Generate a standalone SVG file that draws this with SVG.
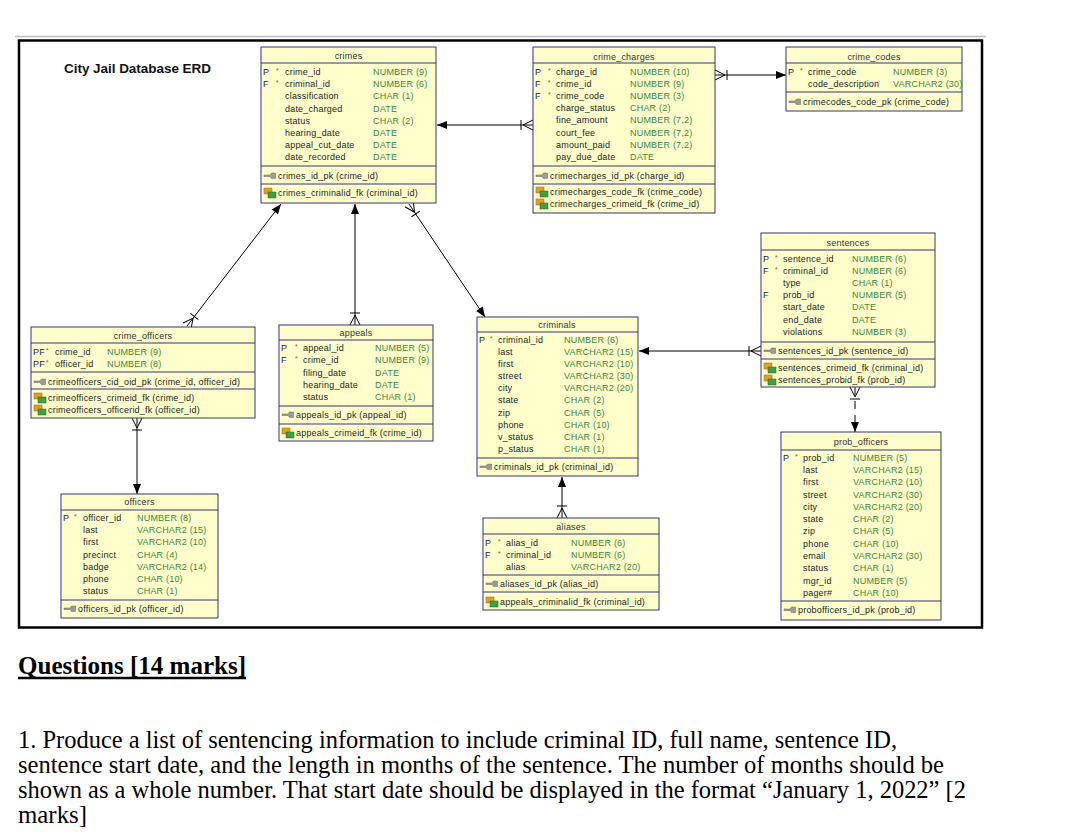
<svg xmlns="http://www.w3.org/2000/svg" xmlns:xlink="http://www.w3.org/1999/xlink" width="1082" height="837" viewBox="0 0 1082 837">
<style>
.box{fill:#ffffcc;stroke:#34347a;stroke-width:1}
.sep{stroke:#34347a;stroke-width:1}
.t{font-family:"Liberation Sans",Arial,sans-serif;font-size:9px;fill:#1e1e1e;letter-spacing:0.2px}
.hd{text-anchor:middle;fill:#333}
.ty{fill:#3a8a3a}
.k{fill:#1e1e4e}
.st{fill:#d04000;font-size:7px}
.con{stroke:#000;stroke-width:1;fill:none}
.dash{stroke-dasharray:8,6}
</style>
<defs>
<marker id="arr" markerUnits="userSpaceOnUse" orient="auto" refX="10" refY="0" markerWidth="12" markerHeight="10" style="overflow:visible"><path d="M0,-4 L10,0 L0,4 z" fill="#000"/></marker>
<marker id="crow" markerUnits="userSpaceOnUse" orient="auto" refX="0" refY="0" markerWidth="14" markerHeight="12" style="overflow:visible"><path d="M10,0 L0,-5 M10,0 L0,5 M12,-5 L12,5" stroke="#000" fill="none" stroke-width="1"/></marker>
<g id="pk"><path d="M0,2 h6 l1.5,-2 h4 v5.5 h-4 l-1.5,-2 h-6 z" fill="#9a9a9a" stroke="#666" stroke-width="0.5"/></g>
<g id="fk"><rect x="0" y="0" width="8" height="6" fill="#e0a020" stroke="#a06010" stroke-width="0.5"/><rect x="4" y="4" width="8" height="6" fill="#40a040" stroke="#206020" stroke-width="0.5"/></g>
</defs>
<rect x="0" y="0" width="1082" height="837" fill="#fff"/>
<line x1="15" y1="36.5" x2="986" y2="36.5" stroke="#bbb" stroke-width="1.5"/>
<rect x="19" y="40.5" width="963" height="587" fill="none" stroke="#000" stroke-width="2.5"/>
<text x="64" y="73" font-family="Liberation Sans, Arial, sans-serif" font-weight="bold" font-size="13.5" textLength="147" fill="#111">City Jail Database ERD</text>

<g id="connectors">
<line class="con" x1="533" y1="125" x2="437" y2="125" marker-start="url(#crow)" marker-end="url(#arr)"/>
<line class="con" x1="715" y1="75" x2="786" y2="75" marker-start="url(#crow)" marker-end="url(#arr)"/>
<line class="con" x1="187" y1="326" x2="281" y2="204" marker-start="url(#crow)" marker-end="url(#arr)"/>
<line class="con" x1="355" y1="325" x2="355" y2="204" marker-start="url(#crow)" marker-end="url(#arr)"/>
<line class="con" x1="409" y1="204" x2="485" y2="317" marker-start="url(#crow)" marker-end="url(#arr)"/>
<line class="con" x1="761" y1="351" x2="639" y2="351" marker-start="url(#crow)" marker-end="url(#arr)"/>
<line class="con" x1="562" y1="518" x2="562" y2="477" marker-start="url(#crow)" marker-end="url(#arr)"/>
<line class="con" x1="137" y1="418" x2="137" y2="494" marker-start="url(#crow)" marker-end="url(#arr)"/>
<line class="con dash" x1="855" y1="387" x2="855" y2="432" marker-start="url(#crow)" marker-end="url(#arr)"/>
</g>

<g id="crimes" class="t">
<rect class="box" x="261" y="47" width="175" height="156"/>
<line class="sep" x1="261" y1="63" x2="436" y2="63"/>
<line class="sep" x1="261" y1="166" x2="436" y2="166"/>
<line class="sep" x1="261" y1="184" x2="436" y2="184"/>
<text class="hd" x="348.5" y="59">crimes</text>
<text class="k" x="263" y="75">P</text><text class="st" x="276" y="73">*</text>
<text class="k" x="263" y="87">F</text><text class="st" x="276" y="85">*</text>
<text x="285" y="75">crime_id</text><text class="ty" x="373" y="75">NUMBER (9)</text>
<text x="285" y="87">criminal_id</text><text class="ty" x="373" y="87">NUMBER (6)</text>
<text x="285" y="99">classification</text><text class="ty" x="373" y="99">CHAR (1)</text>
<text x="285" y="111.5">date_charged</text><text class="ty" x="373" y="111.5">DATE</text>
<text x="285" y="124">status</text><text class="ty" x="373" y="124">CHAR (2)</text>
<text x="285" y="136">hearing_date</text><text class="ty" x="373" y="136">DATE</text>
<text x="285" y="148">appeal_cut_date</text><text class="ty" x="373" y="148">DATE</text>
<text x="285" y="160">date_recorded</text><text class="ty" x="373" y="160">DATE</text>
<use href="#pk" x="264" y="173"/><text x="278" y="179">crimes_id_pk (crime_id)</text>
<use href="#fk" x="264" y="188"/><text x="278" y="196">crimes_criminalid_fk (criminal_id)</text>
</g>

<g id="crime_charges" class="t">
<rect class="box" x="533" y="47" width="182" height="166"/>
<line class="sep" x1="533" y1="63" x2="715" y2="63"/>
<line class="sep" x1="533" y1="166" x2="715" y2="166"/>
<line class="sep" x1="533" y1="184" x2="715" y2="184"/>
<text class="hd" x="624" y="60">crime_charges</text>
<text class="k" x="535" y="75">P</text><text class="st" x="548" y="73">*</text>
<text class="k" x="535" y="87">F</text><text class="st" x="548" y="85">*</text>
<text class="k" x="535" y="99">F</text><text class="st" x="548" y="97">*</text>
<text x="556" y="75">charge_id</text><text class="ty" x="630" y="75">NUMBER (10)</text>
<text x="556" y="87">crime_id</text><text class="ty" x="630" y="87">NUMBER (9)</text>
<text x="556" y="99">crime_code</text><text class="ty" x="630" y="99">NUMBER (3)</text>
<text x="556" y="111">charge_status</text><text class="ty" x="630" y="111">CHAR (2)</text>
<text x="556" y="123">fine_amount</text><text class="ty" x="630" y="123">NUMBER (7,2)</text>
<text x="556" y="136">court_fee</text><text class="ty" x="630" y="136">NUMBER (7,2)</text>
<text x="556" y="148">amount_paid</text><text class="ty" x="630" y="148">NUMBER (7,2)</text>
<text x="556" y="160">pay_due_date</text><text class="ty" x="630" y="160">DATE</text>
<use href="#pk" x="536" y="173"/><text x="550" y="179">crimecharges_id_pk (charge_id)</text>
<use href="#fk" x="536" y="187"/><text x="550" y="195">crimecharges_code_fk (crime_code)</text>
<use href="#fk" x="536" y="199"/><text x="550" y="207">crimecharges_crimeid_fk (crime_id)</text>
</g>

<g id="crime_codes" class="t">
<rect class="box" x="786" y="47" width="176" height="64"/>
<line class="sep" x1="786" y1="63" x2="962" y2="63"/>
<line class="sep" x1="786" y1="92" x2="962" y2="92"/>
<text class="hd" x="874" y="60">crime_codes</text>
<text class="k" x="788" y="75">P</text><text class="st" x="800" y="73">*</text>
<text x="808" y="75">crime_code</text><text class="ty" x="893" y="75">NUMBER (3)</text>
<text x="808" y="87">code_description</text><text class="ty" x="893" y="87">VARCHAR2 (30)</text>
<use href="#pk" x="789" y="99"/><text x="803" y="105">crimecodes_code_pk (crime_code)</text>
</g>

<g id="sentences" class="t">
<rect class="box" x="761" y="233" width="174" height="154"/>
<line class="sep" x1="761" y1="250" x2="935" y2="250"/>
<line class="sep" x1="761" y1="342" x2="935" y2="342"/>
<line class="sep" x1="761" y1="359" x2="935" y2="359"/>
<text class="hd" x="848" y="246">sentences</text>
<text class="k" x="763" y="262">P</text><text class="st" x="775" y="260">*</text>
<text class="k" x="763" y="274">F</text><text class="st" x="775" y="272">*</text>
<text class="k" x="763" y="298">F</text>
<text x="783" y="262">sentence_id</text><text class="ty" x="852" y="262">NUMBER (6)</text>
<text x="783" y="274">criminal_id</text><text class="ty" x="852" y="274">NUMBER (6)</text>
<text x="783" y="286">type</text><text class="ty" x="852" y="286">CHAR (1)</text>
<text x="783" y="298">prob_id</text><text class="ty" x="852" y="298">NUMBER (5)</text>
<text x="783" y="310">start_date</text><text class="ty" x="852" y="310">DATE</text>
<text x="783" y="323">end_date</text><text class="ty" x="852" y="323">DATE</text>
<text x="783" y="335">violations</text><text class="ty" x="852" y="335">NUMBER (3)</text>
<use href="#pk" x="764" y="348"/><text x="778" y="354">sentences_id_pk (sentence_id)</text>
<use href="#fk" x="764" y="363"/><text x="778" y="371">sentences_crimeid_fk (criminal_id)</text>
<use href="#fk" x="764" y="375"/><text x="778" y="383">sentences_probid_fk (prob_id)</text>
</g>

<g id="crime_officers" class="t">
<rect class="box" x="31" y="327" width="224" height="91"/>
<line class="sep" x1="31" y1="343" x2="255" y2="343"/>
<line class="sep" x1="31" y1="372" x2="255" y2="372"/>
<line class="sep" x1="31" y1="389" x2="255" y2="389"/>
<text class="hd" x="143" y="339">crime_officers</text>
<text class="k" x="33" y="355">PF</text><text class="st" x="46" y="353">*</text>
<text class="k" x="33" y="367">PF</text><text class="st" x="46" y="365">*</text>
<text x="55" y="355">crime_id</text><text class="ty" x="107" y="355">NUMBER (9)</text>
<text x="55" y="367">officer_id</text><text class="ty" x="107" y="367">NUMBER (8)</text>
<use href="#pk" x="34" y="379"/><text x="48" y="385">crimeofficers_cid_oid_pk (crime_id, officer_id)</text>
<use href="#fk" x="34" y="393"/><text x="48" y="401">crimeofficers_crimeid_fk (crime_id)</text>
<use href="#fk" x="34" y="405"/><text x="48" y="413">crimeofficers_officerid_fk (officer_id)</text>
</g>

<g id="appeals" class="t">
<rect class="box" x="279" y="325" width="154" height="116"/>
<line class="sep" x1="279" y1="340" x2="433" y2="340"/>
<line class="sep" x1="279" y1="406" x2="433" y2="406"/>
<line class="sep" x1="279" y1="424" x2="433" y2="424"/>
<text class="hd" x="356" y="336">appeals</text>
<text class="k" x="281" y="351">P</text><text class="st" x="295" y="349">*</text>
<text class="k" x="281" y="363">F</text><text class="st" x="295" y="361">*</text>
<text x="303" y="351">appeal_id</text><text class="ty" x="375" y="351">NUMBER (5)</text>
<text x="303" y="363">crime_id</text><text class="ty" x="375" y="363">NUMBER (9)</text>
<text x="303" y="376">filing_date</text><text class="ty" x="375" y="376">DATE</text>
<text x="303" y="388">hearing_date</text><text class="ty" x="375" y="388">DATE</text>
<text x="303" y="400">status</text><text class="ty" x="375" y="400">CHAR (1)</text>
<use href="#pk" x="282" y="412"/><text x="296" y="418">appeals_id_pk (appeal_id)</text>
<use href="#fk" x="282" y="428"/><text x="296" y="436">appeals_crimeid_fk (crime_id)</text>
</g>

<g id="criminals" class="t">
<rect class="box" x="477" y="317" width="161" height="159"/>
<line class="sep" x1="477" y1="332" x2="638" y2="332"/>
<line class="sep" x1="477" y1="458" x2="638" y2="458"/>
<text class="hd" x="557" y="328">criminals</text>
<text class="k" x="479" y="343">P</text><text class="st" x="490" y="341">*</text>
<text x="498" y="343">criminal_id</text><text class="ty" x="564" y="343">NUMBER (6)</text>
<text x="498" y="355">last</text><text class="ty" x="564" y="355">VARCHAR2 (15)</text>
<text x="498" y="367">first</text><text class="ty" x="564" y="367">VARCHAR2 (10)</text>
<text x="498" y="379">street</text><text class="ty" x="564" y="379">VARCHAR2 (30)</text>
<text x="498" y="391">city</text><text class="ty" x="564" y="391">VARCHAR2 (20)</text>
<text x="498" y="403">state</text><text class="ty" x="564" y="403">CHAR (2)</text>
<text x="498" y="416">zip</text><text class="ty" x="564" y="416">CHAR (5)</text>
<text x="498" y="428">phone</text><text class="ty" x="564" y="428">CHAR (10)</text>
<text x="498" y="440">v_status</text><text class="ty" x="564" y="440">CHAR (1)</text>
<text x="498" y="452">p_status</text><text class="ty" x="564" y="452">CHAR (1)</text>
<use href="#pk" x="480" y="464"/><text x="494" y="470">criminals_id_pk (criminal_id)</text>
</g>

<g id="officers" class="t">
<rect class="box" x="61" y="494" width="157" height="124"/>
<line class="sep" x1="61" y1="510" x2="218" y2="510"/>
<line class="sep" x1="61" y1="600" x2="218" y2="600"/>
<text class="hd" x="139.5" y="505">officers</text>
<text class="k" x="63" y="521">P</text><text class="st" x="74" y="519">*</text>
<text x="83" y="521">officer_id</text><text class="ty" x="137" y="521">NUMBER (8)</text>
<text x="83" y="533">last</text><text class="ty" x="137" y="533">VARCHAR2 (15)</text>
<text x="83" y="545">first</text><text class="ty" x="137" y="545">VARCHAR2 (10)</text>
<text x="83" y="558">precinct</text><text class="ty" x="137" y="558">CHAR (4)</text>
<text x="83" y="570">badge</text><text class="ty" x="137" y="570">VARCHAR2 (14)</text>
<text x="83" y="582">phone</text><text class="ty" x="137" y="582">CHAR (10)</text>
<text x="83" y="594">status</text><text class="ty" x="137" y="594">CHAR (1)</text>
<use href="#pk" x="64" y="606"/><text x="78" y="612">officers_id_pk (officer_id)</text>
</g>

<g id="aliases" class="t">
<rect class="box" x="483" y="518" width="176" height="92"/>
<line class="sep" x1="483" y1="534" x2="659" y2="534"/>
<line class="sep" x1="483" y1="575" x2="659" y2="575"/>
<line class="sep" x1="483" y1="592" x2="659" y2="592"/>
<text class="hd" x="571" y="530">aliases</text>
<text class="k" x="485" y="546">P</text><text class="st" x="498" y="544">*</text>
<text class="k" x="485" y="558">F</text><text class="st" x="498" y="556">*</text>
<text x="506" y="546">alias_id</text><text class="ty" x="571" y="546">NUMBER (6)</text>
<text x="506" y="558">criminal_id</text><text class="ty" x="571" y="558">NUMBER (6)</text>
<text x="506" y="570">alias</text><text class="ty" x="571" y="570">VARCHAR2 (20)</text>
<use href="#pk" x="486" y="581"/><text x="500" y="587">aliases_id_pk (alias_id)</text>
<use href="#fk" x="486" y="597"/><text x="500" y="605">appeals_criminalid_fk (criminal_id)</text>
</g>

<g id="prob_officers" class="t">
<rect class="box" x="781" y="432" width="160" height="188"/>
<line class="sep" x1="781" y1="450" x2="941" y2="450"/>
<line class="sep" x1="781" y1="601" x2="941" y2="601"/>
<text class="hd" x="861" y="445">prob_officers</text>
<text class="k" x="783" y="461">P</text><text class="st" x="795" y="459">*</text>
<text x="803" y="461">prob_id</text><text class="ty" x="853" y="461">NUMBER (5)</text>
<text x="803" y="473">last</text><text class="ty" x="853" y="473">VARCHAR2 (15)</text>
<text x="803" y="485">first</text><text class="ty" x="853" y="485">VARCHAR2 (10)</text>
<text x="803" y="498">street</text><text class="ty" x="853" y="498">VARCHAR2 (30)</text>
<text x="803" y="510">city</text><text class="ty" x="853" y="510">VARCHAR2 (20)</text>
<text x="803" y="522">state</text><text class="ty" x="853" y="522">CHAR (2)</text>
<text x="803" y="534">zip</text><text class="ty" x="853" y="534">CHAR (5)</text>
<text x="803" y="547">phone</text><text class="ty" x="853" y="547">CHAR (10)</text>
<text x="803" y="559">email</text><text class="ty" x="853" y="559">VARCHAR2 (30)</text>
<text x="803" y="571">status</text><text class="ty" x="853" y="571">CHAR (1)</text>
<text x="803" y="584">mgr_id</text><text class="ty" x="853" y="584">NUMBER (5)</text>
<text x="803" y="596">pager#</text><text class="ty" x="853" y="596">CHAR (10)</text>
<use href="#pk" x="784" y="607"/><text x="798" y="613">probofficers_id_pk (prob_id)</text>
</g>

<g id="questions" font-family="Liberation Serif, Times New Roman, serif" fill="#000">
<text x="18" y="674" font-size="26" font-weight="bold" textLength="228" lengthAdjust="spacingAndGlyphs">Questions  [14 marks]</text>
<line x1="18" y1="678" x2="246" y2="678" stroke="#000" stroke-width="2.5"/>
<text x="18" y="748" font-size="25" textLength="879" lengthAdjust="spacingAndGlyphs">1. Produce a list of sentencing information to include criminal ID, full name, sentence ID,</text>
<text x="18" y="773" font-size="25" textLength="926" lengthAdjust="spacingAndGlyphs">sentence start date, and the length in months of the sentence. The number of months should be</text>
<text x="18" y="798" font-size="25" textLength="948" lengthAdjust="spacingAndGlyphs">shown as a whole number. That start date should be displayed in the format “January 1, 2022” [2</text>
<text x="18" y="823" font-size="25" textLength="69" lengthAdjust="spacingAndGlyphs">marks]</text>
</g>
</svg>
